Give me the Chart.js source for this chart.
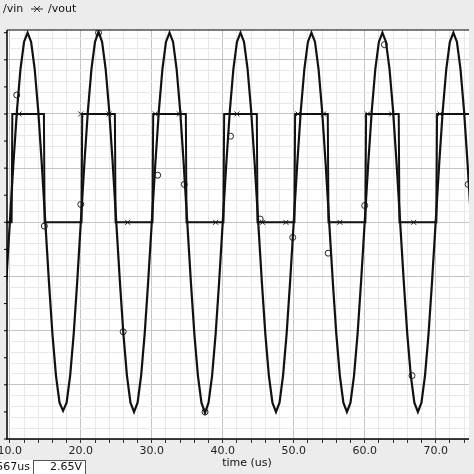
<!DOCTYPE html>
<html><head><meta charset="utf-8">
<script src="https://cdn.jsdelivr.net/npm/chart.js@4/dist/chart.umd.min.js"></script>
<style>html,body{margin:0;padding:0;background:#ececec;}#c{display:block;}</style>
</head><body><canvas id="c" width="474" height="474"></canvas>
<script>
const vinStart = 9.5, vinStep = 0.5;
const vinValues = [2.92,
4,5.08,6.06,6.83,7.33,7.5,7.33,6.83,6.06,5.08,4,2.92,1.94,1.17,0.67,0.52,0.67,1.17,1.94,2.92,
4,5.08,6.06,6.83,7.33,7.52,7.33,6.83,6.06,5.08,4,2.92,1.94,1.17,0.67,0.5,0.67,1.17,1.94,2.92,
4,5.08,6.06,6.83,7.33,7.5,7.33,6.83,6.06,5.08,4,2.92,1.94,1.17,0.67,0.48,0.67,1.17,1.94,2.92,
4,5.08,6.06,6.83,7.33,7.5,7.33,6.83,6.06,5.08,4,2.92,1.94,1.17,0.67,0.5,0.67,1.17,1.94,2.92,
4,5.08,6.06,6.83,7.33,7.5,7.33,6.83,6.06,5.08,4,2.92,1.94,1.17,0.67,0.5,0.67,1.17,1.94,2.92,
4,5.08,6.06,6.83,7.33,7.5,7.33,6.83,6.06,5.08,4,2.92,1.94,1.17,0.67,0.5,0.67,1.17,1.94,2.92,
4,5.08,6.06,6.83,7.33,7.5,7.33,6.83,6.06,5.08,4,2.92,1.94,1.17,0.67,0.5,0.67,1.17,1.94,2.92,
4,5.08];
const vinMarkT = [10.97,14.86,20.0,22.5,25.97,30.83,34.58,37.5,41.1,45.28,49.86,54.86,60.0,62.78,66.67,74.58];
const vinMarkV = [6.35,3.93,4.33,7.5,1.98,4.87,4.70,0.5,5.59,4.06,3.72,3.43,4.31,7.28,1.17,4.70];
const voutT = [9.5,10.25,10.35,14.8,14.9,20.1,20.2,24.8,24.9,30.1,30.2,34.8,34.9,40.1,40.2,44.8,44.9,50.1,50.2,54.8,54.9,60.1,60.2,64.8,64.9,70.1,70.2,74.8];
const voutV = [4,4,6,6,4,4,6,6,4,4,6,6,4,4,6,6,4,4,6,6,4,4,6,6,4,4,6,6];
const voutMarkT = [11.3,20.0,24.0,26.6,30.5,33.9,39.0,42.0,45.6,48.9,50.6,54.2,56.5,60.4,63.8,66.9,70.6];
const voutMarkV = [6,6,6,4,6,6,4,6,4,4,6,6,4,6,6,4,6];
const xTickLabels = ["10.0","20.0","30.0","40.0","50.0","60.0","70.0"];

const vinData = vinValues.map((v,i)=>({x:vinStart+i*vinStep,y:v}));
const voutData = voutT.map((t,i)=>({x:t,y:voutV[i]}));
const vinMarks = vinMarkT.map((t,i)=>({x:t,y:vinMarkV[i]}));
const voutMarks = voutMarkT.map((t,i)=>({x:t,y:voutMarkV[i]}));

const deco = {
  id:'deco',
  beforeDraw(ch){
    const c=ch.ctx,a=ch.chartArea;
    c.save();c.fillStyle='#ececec';c.fillRect(0,0,ch.width,ch.height);
    c.fillStyle='#ffffff';c.fillRect(a.left,a.top,a.right-a.left,a.bottom-a.top);c.restore();
  },
  afterDraw(ch){
    const c=ch.ctx,a=ch.chartArea;
    c.save();
    c.strokeStyle='#000';c.lineWidth=1.5;
    c.beginPath();c.moveTo(a.left,a.top);c.lineTo(a.left,a.bottom);c.lineTo(a.right,a.bottom);c.stroke();
    c.lineWidth=1;
    c.beginPath();c.moveTo(a.left,a.top);c.lineTo(a.right,a.top);c.stroke();
    const ys=ch.scales.y;
    c.beginPath();
    for(let v=0;v<=7.5;v+=0.5){const y=ys.getPixelForValue(v);c.moveTo(a.left-3,y);c.lineTo(a.left,y);}
    c.stroke();
    c.font='11px "DejaVu Sans"';c.fillStyle='#111';c.textBaseline='middle';
    c.fillText('/vin',3,9);
    c.fillText('/vout',48,9);
    c.strokeStyle='#333';c.beginPath();c.moveTo(34,6);c.lineTo(40,12);c.moveTo(40,6);c.lineTo(34,12);c.moveTo(31,9);c.lineTo(43,9);c.stroke();
    c.fillStyle='#fff';c.fillRect(0,460,86,14);
    c.strokeStyle='#555';c.strokeRect(33.5,460.5,52,14);
    c.fillStyle='#111';c.textAlign='right';
    c.fillText('567us',30,467);c.fillText('2.65V',82,467);
    c.textAlign='center';
    c.fillText('time (us)',247,463);
    c.restore();
  }
};

new Chart(document.getElementById('c'),{
  type:'scatter',
  data:{datasets:[
    {data:vinData,showLine:true,borderColor:'#111',borderWidth:2.2,pointRadius:0,tension:0},
    {data:voutData,showLine:true,borderColor:'#111',borderWidth:2,pointRadius:0,tension:0},
    {data:vinMarks,showLine:false,pointStyle:'circle',pointRadius:3,borderColor:'#222',backgroundColor:'rgba(0,0,0,0)',borderWidth:1},
    {data:voutMarks,showLine:false,pointStyle:'crossRot',pointRadius:3.5,borderColor:'#222',borderWidth:1}
  ]},
  options:{
    responsive:false,animation:false,
    layout:{padding:{left:7,top:30,right:0,bottom:0}},
    plugins:{legend:{display:false},tooltip:{enabled:false}},
    scales:{
      x:{type:'linear',min:9.6,max:74.7,
        afterBuildTicks(s){const t=[];for(let v=10;v<=74;v+=2)t.push({value:v});s.ticks=t;},
        afterFit(s){s.height=35;s.paddingLeft=0;s.paddingRight=0;},
        border:{display:false},
        grid:{color:ctx=>(ctx.tick&&Math.round(ctx.tick.value)%10===0)?'#c4c4c4':'#e8e8e8',tickLength:4,
          tickColor:'#333',drawTicks:true},
        ticks:{autoSkip:false,maxRotation:0,padding:2,color:'#222',font:{family:'DejaVu Sans',size:11},
          callback:v=>{const i=Math.round(v)/10-1;return (Math.round(v)%10===0)?xTickLabels[i]:'';}}
      },
      y:{type:'linear',min:0,max:7.55,
        afterBuildTicks(s){const t=[];for(let v=0;v<=7.5;v+=0.2)t.push({value:Math.round(v*10)/10});s.ticks=t;},
        afterFit(s){s.width=0;},
        border:{display:false},
        grid:{color:ctx=>(ctx.tick&&Math.abs(ctx.tick.value-Math.round(ctx.tick.value))<0.01)?'#c4c4c4':'#e8e8e8',drawTicks:false},
        ticks:{display:false}
      }
    }
  },
  plugins:[deco]
});
</script></body></html>
